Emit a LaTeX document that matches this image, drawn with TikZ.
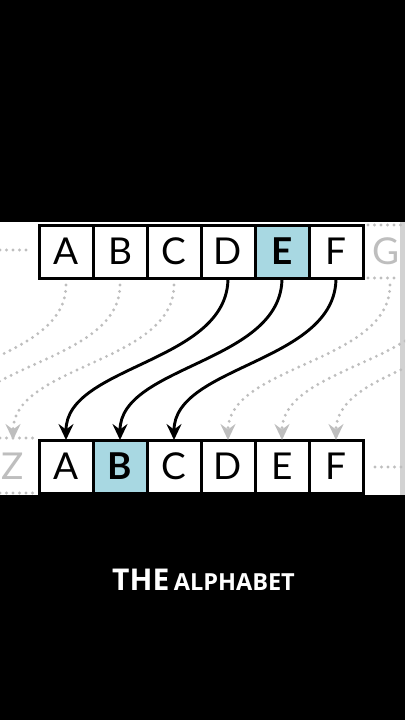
\documentclass[tikz,border=0pt]{standalone}
\usepackage{fontspec}
\setmainfont{Lato}
\newfontfamily\capfont{Open Sans}
\usetikzlibrary{arrows.meta,positioning}
\definecolor{cellblue}{RGB}{168,216,226}
\definecolor{ghostgray}{RGB}{190,190,190}

\begin{document}
\begin{tikzpicture}[x=1pt,y=-1pt,
    cell/.style={draw=black, line width=3pt, minimum width=54pt, minimum height=53pt,
      inner sep=0pt, outer sep=0pt, font=\fontsize{37}{37}\selectfont},
    hit/.style={cell, fill=cellblue, font=\fontsize{37}{37}\selectfont\bfseries},
    ghost/.style={text=ghostgray, inner sep=0pt, font=\fontsize{37}{37}\selectfont},
    caesar/.style={line width=2.9pt, -{Stealth[length=16pt,width=15pt,inset=5.5pt]}},
    faint/.style={ghostgray, line width=3.2pt, line cap=round, dash pattern=on 0pt off 6.5pt},
    faintcaesar/.style={faint, -{Stealth[length=16pt,width=15pt,inset=5.5pt]}}]
  \useasboundingbox (0,0) rectangle (405,720);
  \fill[black] (0,0) rectangle (405,720);
  \fill[white] (0,222) rectangle (405,495);
  \fill[ghostgray!70] (400,222) rectangle (405,495);

  % top row
  \node[cell] (tA) at (66,251.5) {A};
  \node[cell, right=0pt of tA] (tB) {B};
  \node[cell, right=0pt of tB] (tC) {C};
  \node[cell, right=0pt of tC] (tD) {D};
  \node[hit, right=0pt of tD] (tE) {E};
  \node[cell, right=0pt of tE] (tF) {F};
  \node[ghost] (tG) at (386,251.5) {G};

  % bottom row
  \node[cell] (bA) at (66,466.5) {A};
  \node[hit, right=0pt of bA] (bB) {B};
  \node[cell, right=0pt of bB] (bC) {C};
  \node[cell, right=0pt of bC] (bD) {D};
  \node[cell, right=0pt of bD] (bE) {E};
  \node[cell, right=0pt of bE] (bF) {F};
  \node[ghost] (bZ) at (13,466.5) {Z};

  % letters off the strip
  \coordinate (gS) at (390,278);
  \coordinate (tH) at (444,278);
  \coordinate (tI) at (498,278);
  \coordinate (bX) at (-96,440);
  \coordinate (bY) at (-42,440);
  \coordinate (zN) at (13,440);

  % dotted ends of the strips
  \draw[faint] (0,250) -- (32,250);
  \draw[faint] (368,225) -- (405,225);
  \draw[faint] (368,278) -- (398,278);
  \draw[faint] (0,438) -- (35,438);
  \draw[faint] (0,493) -- (35,493);
  \draw[faint] (375,467) -- (405,467);

  \begin{scope}
    \clip (0,222) rectangle (405,495);
    \foreach \a/\b in {tA.south/bX, tB.south/bY, tC.south/zN, gS/bD.north, tH/bE.north, tI/bF.north}
      \draw[faintcaesar] ([yshift=-7pt]\a) .. controls +(0,78) and +(0,-75) .. (\b);
  \end{scope}

  \foreach \a/\b in {tD/bA, tE/bB, tF/bC}
    \draw[caesar] (\a.south) .. controls +(0,85) and +(0,-75) .. (\b.north);

  \node[text=white, inner sep=0pt, anchor=base west,
    font=\capfont\bfseries\fontsize{30}{30}\selectfont] (title) at (112,590)
    {THE\hspace{4.5pt}{\fontsize{23.5}{23.5}\selectfont ALPHABET}};
\end{tikzpicture}
\end{document}
